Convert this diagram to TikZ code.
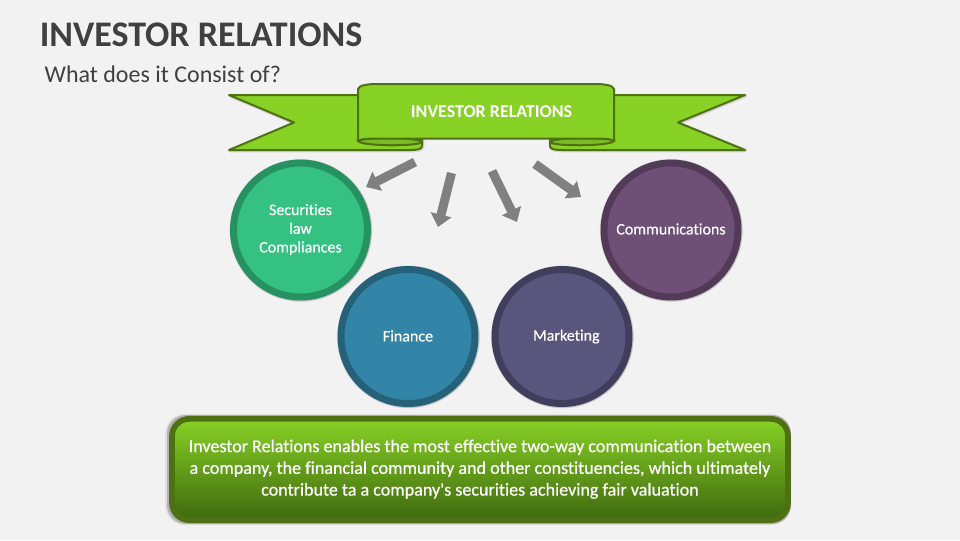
\documentclass[tikz,border=0pt]{standalone}
\usepackage{fontspec}
\defaultfontfeatures[\rmfamily]{}
\setmainfont[Ligatures=NoCommon]{Carlito}
\usetikzlibrary{arrows.meta,shadows}
\definecolor{bgc}{RGB}{242,242,242}
\definecolor{txt}{RGB}{64,64,64}
\definecolor{lime}{RGB}{136,210,38}
\definecolor{limed}{RGB}{79,113,20}
\definecolor{arr}{RGB}{128,128,128}
\newcommand{\lift}[2][0.9pt]{\raisebox{#1}{#2}}
\tikzset{
  x=0.75pt,y=-0.75pt,
  softshadow/.style={
    preaction={draw=black,draw opacity=0.08,line width=6.7pt,fill opacity=0,transform canvas={xshift=0.3pt,yshift=-0.3pt}},
    preaction={draw=black,draw opacity=0.14,line width=5.9pt,fill opacity=0,transform canvas={xshift=0.3pt,yshift=-0.3pt}}},
  ribbonpart/.style={fill=lime,draw=limed,line width=1.5pt,line join=round,
    preaction={draw=black,draw opacity=0.12,line width=2.6pt,line join=round,transform canvas={xshift=0.5pt,yshift=-0.5pt}}},
  ribbonline/.style={draw=limed,line width=1.5pt},
  bub/.style={circle,minimum size=100.5pt,inner sep=0pt,line width=5.2pt,softshadow,text=white,align=center,
     font=\fontsize{12}{14}\selectfont\addfontfeatures{FakeBold=0.6}},
  blockarr/.style={draw=arr,line width=6.8pt,-{Triangle[length=9.5pt,width=15.5pt]},shorten >=0pt},
}
\begin{document}
\begin{tikzpicture}
\useasboundingbox (0,0) rectangle (960,540);
\fill[bgc] (0,0) rectangle (960,540);
\node[anchor=base west,inner sep=0pt,text=txt,font=\fontsize{27}{30}\selectfont\bfseries] (title) at (39.5,46) {INVESTOR RELATIONS};
\node[anchor=base west,inner sep=0pt,text=txt,font=\fontsize{18}{22}\selectfont] (subtitle) at (44.4,82) {What does it Consist of?};
% ribbon tails
\path[ribbonpart] (229,95) -- (362,95) -- (422,140) -- (422,146) .. controls (422,149) and (418,150) .. (410,150) -- (229,150) -- (294,122.5) -- cycle;
\path[ribbonpart] (745,95) -- (610,95) -- (550,140) -- (550,146) .. controls (550,149) and (554,150) .. (562,150) -- (745,150) -- (678,122.5) -- cycle;
% folds
\draw[ribbonline,fill=lime!75!limed] (358,141) .. controls (360,137) and (420,137) .. (422,142) .. controls (420,146.5) and (362,146.5) .. (358,141) -- cycle;
\draw[ribbonline,fill=lime!75!limed] (614,141) .. controls (612,137) and (552,137) .. (550,142) .. controls (552,146.5) and (610,146.5) .. (614,141) -- cycle;
% ribbon centre
\path[fill=lime,draw=limed,line width=1.5pt,line join=round] (358,141) -- (358,89) .. controls (359,85) and (368,84) .. (378,84) -- (594,84) .. controls (604,84) and (613,85) .. (614,89) -- (614,141) .. controls (612,139) and (604,138.5) .. (594,138.5) -- (378,138.5) .. controls (368,138.5) and (360,139) .. (358,141) -- cycle;
\node[text=white,inner sep=0pt,font=\fontsize{13.5}{16}\selectfont\bfseries] (ribbon) at (491.5,111.7) {INVESTOR RELATIONS};
% circles
\node[bub,draw={rgb,255:red,38;green,145;blue,97},fill={rgb,255:red,52;green,193;blue,130}] (sec) at (300.5,230) {\lift[1.6pt]{\begin{tabular}{@{}c@{}}Securities\\law\\Compliances\end{tabular}}};
\node[bub,draw={rgb,255:red,37;green,98;blue,122},fill={rgb,255:red,50;green,133;blue,166}] (fin) at (408,336.5) {\lift{Finance}};
\node[bub,draw={rgb,255:red,64;green,62;blue,92},fill={rgb,255:red,88;green,86;blue,125}] (mkt) at (562,336.5) {\lift{\hspace{6.5pt}Marketing}};
\node[bub,draw={rgb,255:red,82;green,58;blue,88},fill={rgb,255:red,110;green,80;blue,118}] (com) at (671,230) {\lift[1.6pt]{Communications}};
% arrows
\coordinate (a1s) at (415,162); \coordinate (a1e) at (366,187);
\coordinate (a2s) at (451.5,173); \coordinate (a2e) at (438,227);
\coordinate (a3s) at (492,171); \coordinate (a3e) at (517,222);
\coordinate (a4s) at (535,164); \coordinate (a4e) at (581,197);
\draw[blockarr] (a1s) -- (a1e);
\draw[blockarr] (a2s) -- (a2e);
\draw[blockarr] (a3s) -- (a3e);
\draw[blockarr] (a4s) -- (a4e);
% bottom box
\fill[black,opacity=0.07,rounded corners=15pt] (165,414) rectangle (791,525);
\fill[black,opacity=0.20,rounded corners=14pt] (167,415) rectangle (791,524);
\node[rounded corners=13pt,minimum width=462pt,minimum height=76pt,inner sep=0pt,draw=limed,line width=4.3pt,
      top color=lime,bottom color={rgb,255:red,62;green,104;blue,14},
      text=white,align=center,font=\fontsize{13.55}{16.3}\selectfont\addfontfeatures{FakeBold=0.6}] (box) at (480,469.5)
 {\raisebox{-0.8pt}{\begin{tabular}{@{}c@{}}Investor Relations enables the most effective two-way communication between\\a company, the financial community and other constituencies, which ultimately\\contribute ta a company's securities achieving fair valuation\end{tabular}}};
\end{tikzpicture}
\end{document}
